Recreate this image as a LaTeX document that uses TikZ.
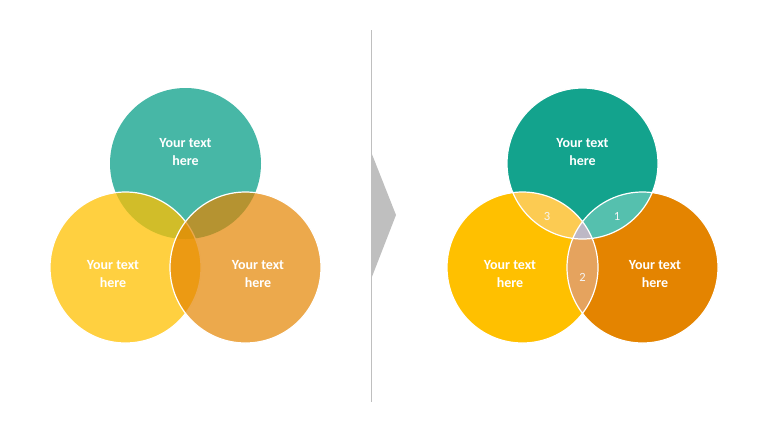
\documentclass[tikz,border=0pt]{standalone}
\usepackage{fontspec}
\setmainfont{Carlito}
\usetikzlibrary{positioning}
\definecolor{vteal}{HTML}{13A38D}
\definecolor{vyellow}{HTML}{FFC000}
\definecolor{vorange}{HTML}{E48400}
\definecolor{lteal}{HTML}{55C0AE}
\definecolor{lyellow}{HTML}{FCCB52}
\definecolor{lorange}{HTML}{E5A35E}
\definecolor{lgray}{HTML}{BDB8C5}
\definecolor{sepgray}{HTML}{BFBFBF}

\begin{document}
\begin{tikzpicture}[x=1pt,y=-1pt,
    lbl/.style={font=\bfseries\fontsize{14}{18}\selectfont, text=white,
        align=center, inner sep=0pt},
    num/.style={font=\fontsize{12.5}{14}\selectfont, text=white!92!gray,
        inner sep=0pt},
    rim/.style={draw=white, line width=1.2pt}]
    \useasboundingbox (0,0) rectangle (768,432);
    \def\R{75.5}

    % left: overlapping circles
    \coordinate (lt) at (185.5,163.5);
    \coordinate (ly) at (125.5,267.5);
    \coordinate (lo) at (245.5,267.5);
    \fill[vteal, fill opacity=.78] (lt) circle[radius=\R];
    \filldraw[fill=vyellow, fill opacity=.75, rim] (ly) circle[radius=\R];
    \filldraw[fill=vorange, fill opacity=.7, rim] (lo) circle[radius=\R];
    \node[lbl] (txt-lt) at (185.5,152) {Your text\\here};
    \node[lbl] (txt-ly) at (113,274) {Your text\\here};
    \node[lbl] (txt-lo) at (258,274) {Your text\\here};

    % separator and arrow
    \coordinate (sep-top) at (371.5,30);
    \coordinate (sep-bot) at (371.5,402);
    \draw[sepgray, line width=0.8pt] (sep-top) -- (sep-bot);
    \fill[sepgray] (371.5,153) -- (396,215) -- (371.5,278) -- cycle;

    % right: segmented circles
    \coordinate (rt) at (582.5,163.5);
    \coordinate (ry) at (522.5,267.5);
    \coordinate (ro) at (642.5,267.5);
    \fill[vteal] (rt) circle[radius=\R];
    \fill[vyellow] (ry) circle[radius=\R];
    \fill[vorange] (ro) circle[radius=\R];
    \begin{scope}
        \clip (rt) circle[radius=\R];
        \fill[lteal] (ro) circle[radius=\R];
        \fill[lyellow] (ry) circle[radius=\R];
    \end{scope}
    \begin{scope}
        \clip (ry) circle[radius=\R];
        \fill[lorange] (ro) circle[radius=\R];
    \end{scope}
    \begin{scope}
        \clip (rt) circle[radius=\R];
        \clip (ry) circle[radius=\R];
        \fill[lgray] (ro) circle[radius=\R];
    \end{scope}
    \draw[rim] (rt) circle[radius=\R] (ry) circle[radius=\R] (ro) circle[radius=\R];
    \node[lbl] (txt-rt) at (582.5,152) {Your text\\here};
    \node[lbl] (txt-ry) at (510,274) {Your text\\here};
    \node[lbl] (txt-ro) at (655,274) {Your text\\here};
    \node[num] (n1) at (617,216) {1};
    \node[num] (n2) at (582.5,277) {2};
    \node[num] (n3) at (547,216) {3};
\end{tikzpicture}
\end{document}
